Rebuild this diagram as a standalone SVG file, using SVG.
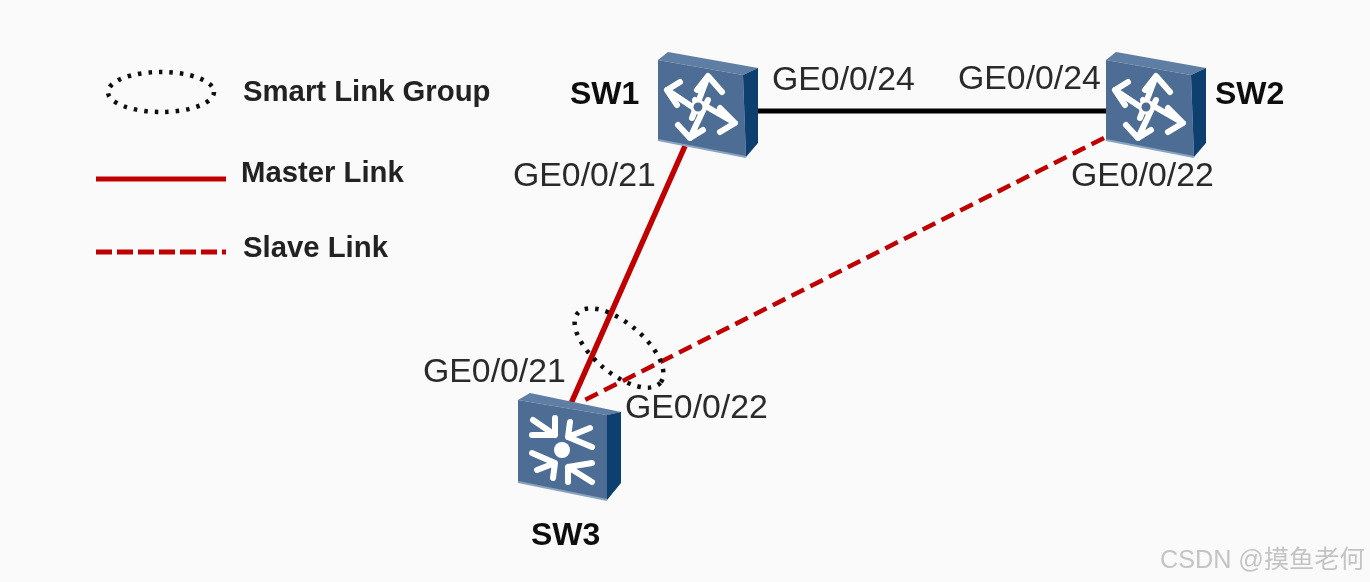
<svg xmlns="http://www.w3.org/2000/svg" width="1370" height="582" viewBox="0 0 1370 582">
<style>
.lab{font-family:"Liberation Sans",Arial,sans-serif;font-size:33.8px;fill:#2a2a2a}
.name{font-family:"Liberation Sans",Arial,sans-serif;font-size:32px;font-weight:bold;fill:#111}
.leg{font-family:"Liberation Sans",Arial,sans-serif;font-size:29.3px;font-weight:bold;fill:#222}
.dot{fill:none;stroke:#111;stroke-width:4.5;stroke-dasharray:3.5 7}
.ar{fill:none;stroke:#fff;stroke-width:6;stroke-linecap:round;stroke-linejoin:round}
.top{fill:#5f7ea3}
.front{fill:#4d6d94}
.side{fill:#0d3f6e}
.edge{fill:none;stroke:#8aa3bf;stroke-width:2}
</style>
<defs>
<filter id="soft" x="0" y="0" width="100%" height="100%"><feGaussianBlur stdDeviation="0.5"/></filter>
<g id="sw">
<polygon class="top" points="0,8 10,0 100,16 85,23"/>
<polygon class="front" points="0,8 85,23 88,105 0,88"/>
<polygon class="side" points="85,23 100,16 100,91 88,105"/>
<polyline class="edge" points="0,88 88,105"/>
<g class="ar">
<path d="M34,66 L50,24 M39,38 L50,24 L64,40"/>
<path d="M42,60 L9,38 M22,30 L9,38 L19,53"/>
<path d="M37,48 L77,71 M62,56 L77,71 L62,80"/>
<path d="M50,48 L32,86 M20,73 L32,86 L45,78"/>
</g>
<circle cx="40" cy="55" r="6" fill="#4d6d94" stroke="#fff" stroke-width="3"/>
</g>
<g id="core">
<polygon class="top" points="0,7 12,0 103,19 89,22"/>
<polygon class="front" points="0,7 89,22 89,107 0,89"/>
<polygon class="side" points="89,22 103,19 103,90 89,107"/>
<polyline class="edge" points="0,89 89,107"/>
<circle cx="44" cy="57" r="8" fill="#fff"/>
<g class="ar">
<path d="M15,27 L37,42 M37,25 L37,42 L14,42"/>
<path d="M72,35 L50,44 M52,29 L50,44 L74,54"/>
<path d="M19,77 L37,70 M14,60 L37,70 L35,85"/>
<path d="M74,89 L50,74 M74,70 L50,74 L50,89"/>
</g>
</g>
</defs>
<rect width="1370" height="582" fill="#fafafa"/>
<g filter="url(#soft)">
<g id="connectors">
<line x1="757" y1="111" x2="1106" y2="111" stroke="#000" stroke-width="5"/>
<line x1="685" y1="146" x2="569" y2="408" stroke="#c00000" stroke-width="5.5"/>
<line x1="1104" y1="138" x2="585" y2="400" stroke="#c00000" stroke-width="4.5" stroke-dasharray="14 7"/>
</g>
<g id="sw1"><use href="#sw" x="658" y="52"/><text class="name" x="570" y="104">SW1</text></g>
<g id="sw2"><use href="#sw" x="1106" y="52"/><text class="name" x="1215" y="104">SW2</text></g>
<g id="sw3"><use href="#core" x="518" y="393"/><text class="name" x="531" y="545">SW3</text></g>
<g id="group"><ellipse cx="619" cy="348" rx="54" ry="25" transform="rotate(40 619 348)" class="dot"/></g>
<g id="labels">
<text class="lab" x="772" y="90">GE0/0/24</text>
<text class="lab" x="958" y="89">GE0/0/24</text>
<text class="lab" x="513" y="186">GE0/0/21</text>
<text class="lab" x="1071" y="186">GE0/0/22</text>
<text class="lab" x="423" y="382">GE0/0/21</text>
<text class="lab" x="625" y="418">GE0/0/22</text>
</g>
<g id="legend">
<ellipse cx="161" cy="92" rx="53" ry="20" class="dot"/>
<text class="leg" x="243" y="101">Smart Link Group</text>
<line x1="96" y1="179" x2="226" y2="179" stroke="#c00000" stroke-width="5"/>
<text class="leg" x="241" y="182">Master Link</text>
<line x1="96" y1="252" x2="226" y2="252" stroke="#c00000" stroke-width="5" stroke-dasharray="16 5"/>
<text class="leg" x="243" y="257">Slave Link</text>
</g>
<text id="watermark" x="1160" y="568" font-family="'Liberation Sans','Noto Sans CJK SC',sans-serif" font-size="25.2" fill="#c4c4c4">CSDN @摸鱼老何</text>
</g>
</svg>
